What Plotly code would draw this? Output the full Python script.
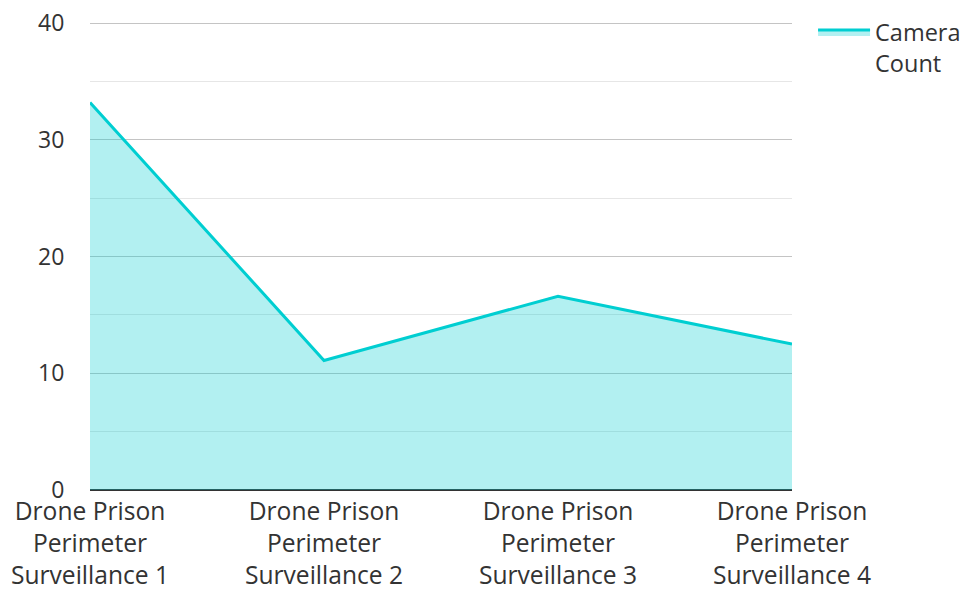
import plotly.graph_objects as go

categories = ["Drone Prison<br>Perimeter<br>Surveillance 1",
              "Drone Prison<br>Perimeter<br>Surveillance 2",
              "Drone Prison<br>Perimeter<br>Surveillance 3",
              "Drone Prison<br>Perimeter<br>Surveillance 4"]
camera_count = [33.2, 11.1, 16.6, 12.5]
series_name = "Camera<br>Count"

fig = go.Figure()
fig.add_trace(go.Scatter(
    x=categories, y=camera_count, name=series_name,
    mode="lines", fill="tozeroy",
    line=dict(color="#00CED1", width=3),
    fillcolor="rgba(0,206,209,0.3)",
))

# page body adds an 8px margin, so the figure is sized to fit inside the window
fig.update_layout(
    width=960, height=586,
    margin=dict(l=82, r=176, t=14, b=104, autoexpand=False),
    paper_bgcolor="white", plot_bgcolor="white",
    font=dict(family="Open Sans", size=24, color="#333333"),
    showlegend=True,
    legend=dict(x=1.030, y=1.025, xanchor="left", yanchor="top", valign="top",
                font=dict(size=23.5, color="#333333"), itemwidth=52,
                tracegroupgap=0),
    xaxis=dict(type="category", range=[0, 3], showgrid=False, automargin=False,
               showline=False, zeroline=False, ticks="", ticklabelstandoff=4,
               tickfont=dict(size=24.6)),
    yaxis=dict(range=[0, 40.1], dtick=10, showgrid=True, gridcolor="#c4c4c4",
               gridwidth=1, zeroline=True, zerolinecolor="#333333", zerolinewidth=2,
               showline=False, ticks="outside", ticklen=0, ticklabelstandoff=20,
               ticklabeloverflow="allow",
               automargin=False, tickfont=dict(size=23),
               minor=dict(dtick=5, showgrid=True, gridcolor="#e6e6e6", gridwidth=1)),
)

fig.write_html("out.html")
